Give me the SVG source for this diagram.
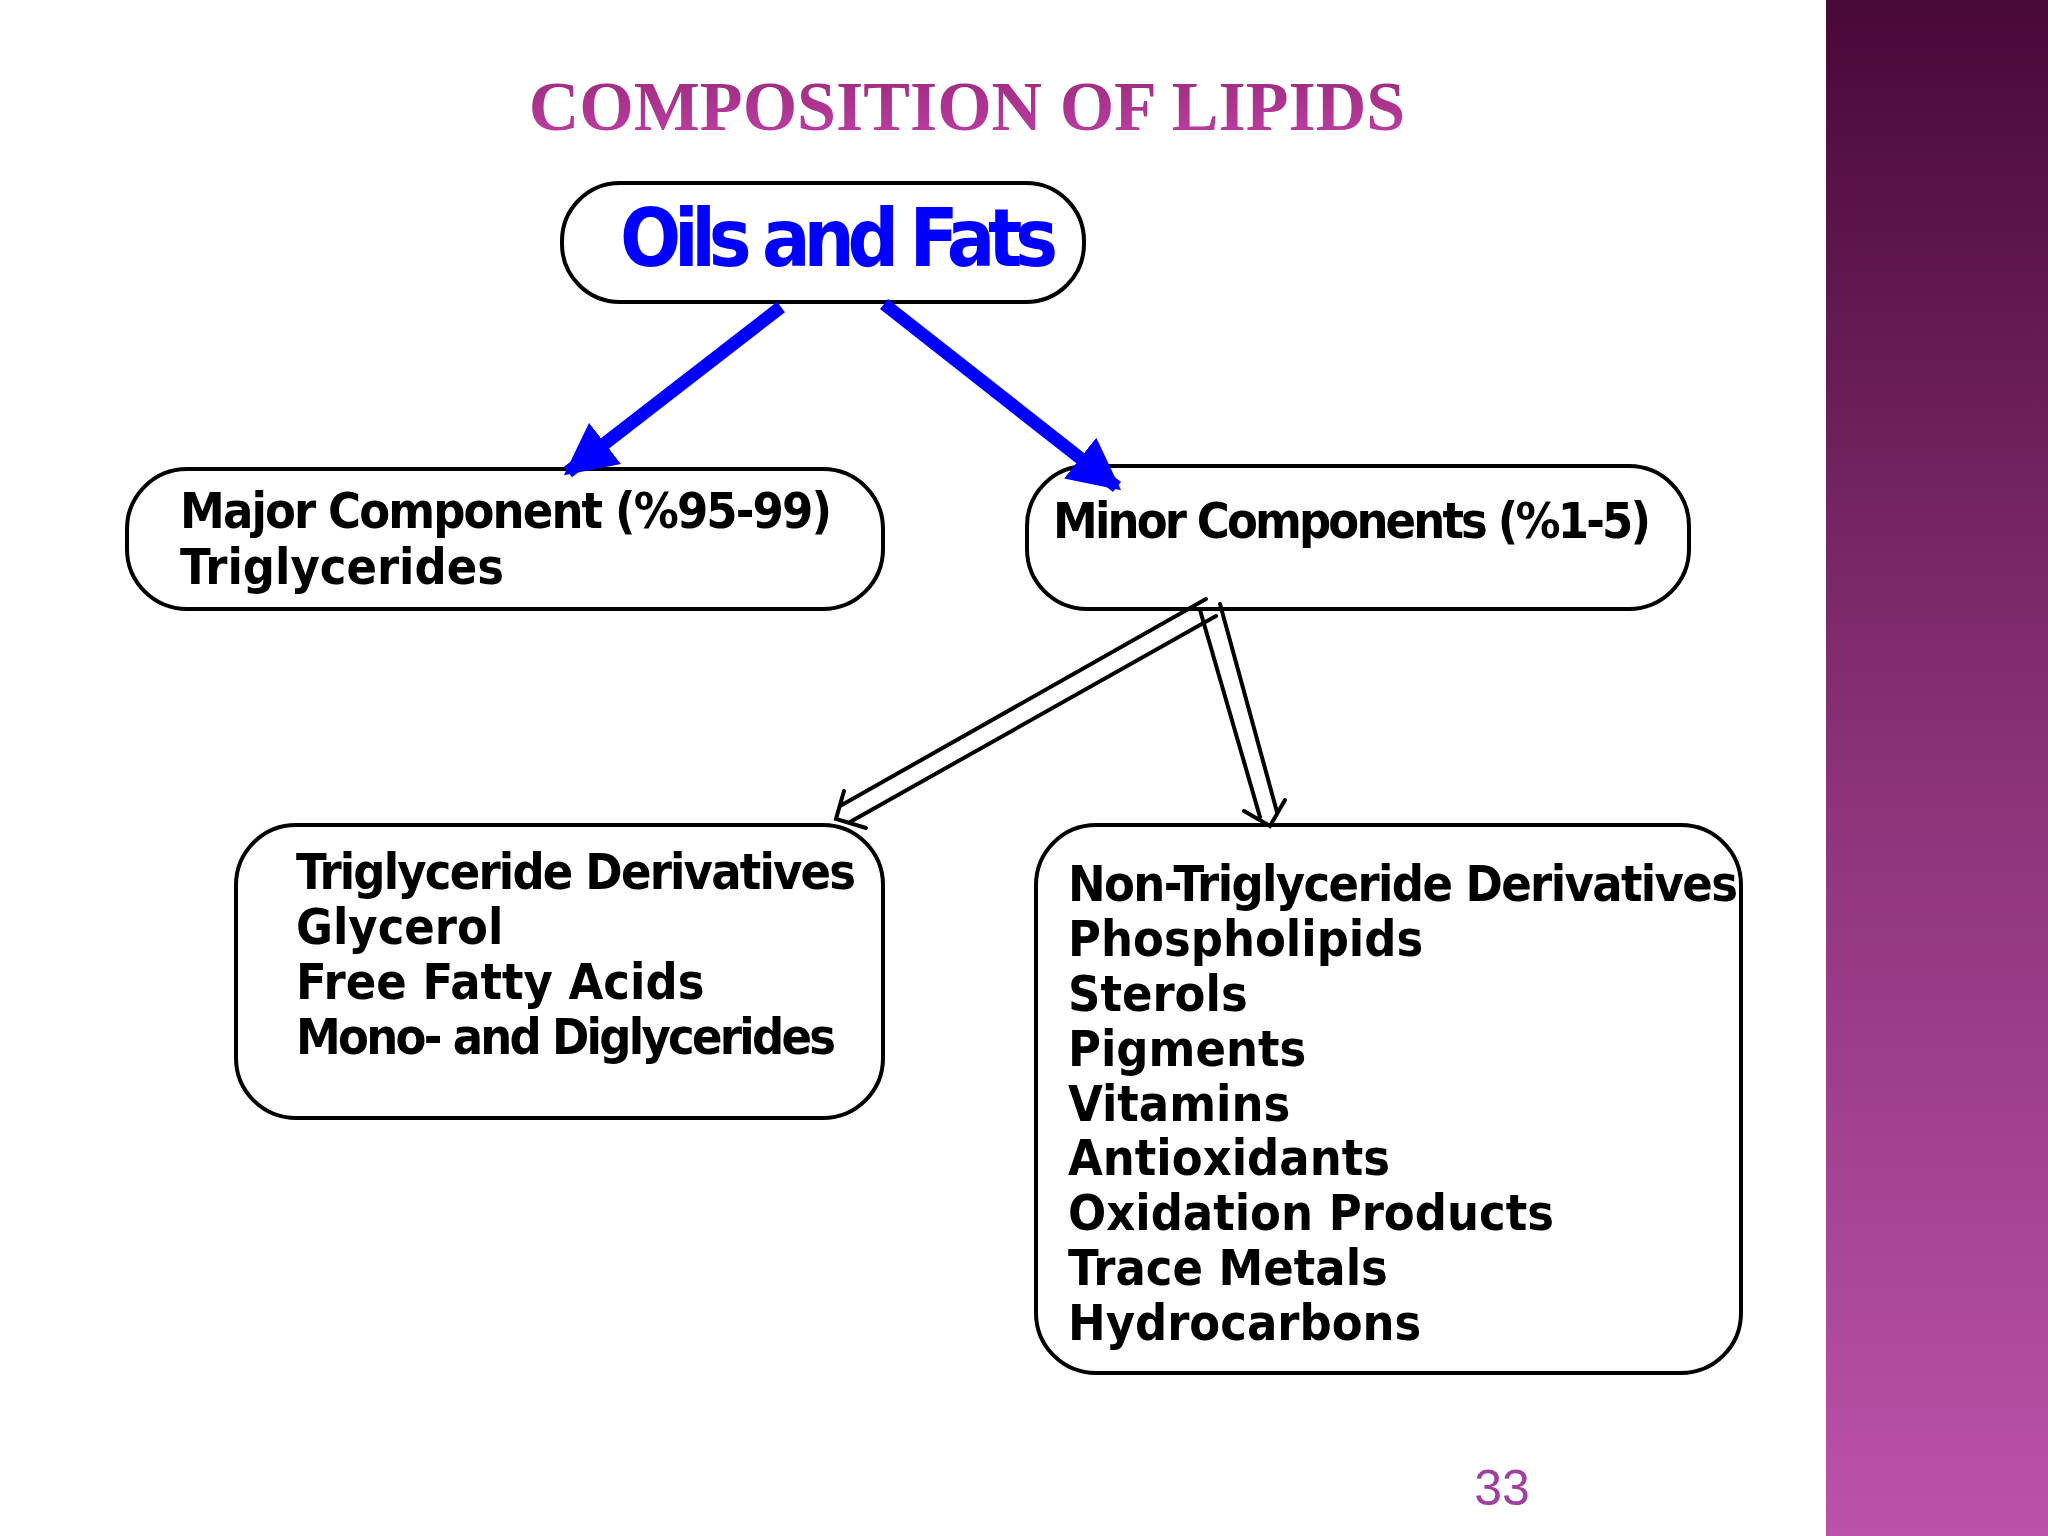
<svg xmlns="http://www.w3.org/2000/svg" width="2048" height="1536" viewBox="0 0 2048 1536">
<defs>
<linearGradient id="bar" x1="0" y1="0" x2="0" y2="1"><stop offset="0" stop-color="#480838"/><stop offset="0.5" stop-color="#8a3278"/><stop offset="1" stop-color="#bb52aa"/></linearGradient>
<linearGradient id="tg" x1="0" y1="0" x2="0" y2="1"><stop offset="0" stop-color="#9a2a7a"/><stop offset="1" stop-color="#c040a8"/></linearGradient>
<marker id="ba" viewBox="0 0 10 10" refX="9" refY="5" markerWidth="4" markerHeight="4" orient="auto" markerUnits="strokeWidth"><path d="M0,0 L10,5 L0,10 z" fill="#0000ff"/></marker>
</defs>
<style>
.box{fill:#fff;stroke:#000;stroke-width:4}
.t{font-family:"DejaVu Sans",sans-serif;font-stretch:condensed;font-weight:bold;font-size:50px;fill:#000}
.h{fill:none;stroke:#000;stroke-width:4;stroke-linecap:round}
</style>
<rect width="2048" height="1536" fill="#fff"/>
<rect x="1826" y="0" width="222" height="1536" fill="url(#bar)"/>
<text x="967" y="130" text-anchor="middle" font-family="Liberation Serif,serif" font-weight="bold" font-size="70" fill="url(#tg)">COMPOSITION OF LIPIDS</text>
<g id="oils"><rect class="box" x="562" y="183" width="522" height="119" rx="58"/><text x="620" y="266" font-family="DejaVu Sans,sans-serif" font-stretch="condensed" font-weight="bold" font-size="80" fill="#0000ff" textLength="438">Oils and Fats</text></g>
<g id="major"><rect class="box" x="127" y="469" width="756" height="140" rx="60"/><text class="t" x="180" y="528" textLength="652">Major Component (%95-99)</text><text class="t" x="180" y="584">Triglycerides</text></g>
<g id="minor"><rect class="box" x="1027" y="466" width="662" height="143" rx="60"/><text class="t" x="1053" y="538" textLength="598">Minor Components (%1-5)</text></g>
<g id="tgd"><rect class="box" x="236" y="825" width="647" height="293" rx="60"/><text class="t" x="296" y="889" textLength="560">Triglyceride Derivatives</text><text class="t" x="296" y="944">Glycerol</text><text class="t" x="296" y="999">Free Fatty Acids</text><text class="t" x="296" y="1054" textLength="540">Mono- and Diglycerides</text></g>
<g id="ntgd"><rect class="box" x="1036" y="825" width="705" height="548" rx="60"/><text class="t" x="1068" y="901" textLength="670">Non-Triglyceride Derivatives</text><text class="t" x="1068" y="956">Phospholipids</text><text class="t" x="1068" y="1011">Sterols</text><text class="t" x="1068" y="1066">Pigments</text><text class="t" x="1068" y="1121">Vitamins</text><text class="t" x="1068" y="1175">Antioxidants</text><text class="t" x="1068" y="1230">Oxidation Products</text><text class="t" x="1068" y="1285">Trace Metals</text><text class="t" x="1068" y="1340">Hydrocarbons</text></g>
<g id="connectors">
<line x1="781" y1="307" x2="568" y2="472" stroke="#0000ff" stroke-width="13" marker-end="url(#ba)"/>
<line x1="884" y1="304" x2="1117" y2="487" stroke="#0000ff" stroke-width="13" marker-end="url(#ba)"/>
<line class="h" x1="1206" y1="599" x2="840" y2="806"/>
<line class="h" x1="1216" y1="616" x2="850" y2="822"/>
<polyline class="h" points="844,791 836,819 866,828"/>
<line class="h" x1="1200" y1="610" x2="1260" y2="817"/>
<line class="h" x1="1220" y1="604" x2="1277" y2="812"/>
<polyline class="h" points="1244,811 1270,826 1285,800"/>
</g>
<text x="1502" y="1505" text-anchor="middle" font-family="Liberation Sans,sans-serif" font-size="50" fill="#a040a0">33</text>
</svg>
